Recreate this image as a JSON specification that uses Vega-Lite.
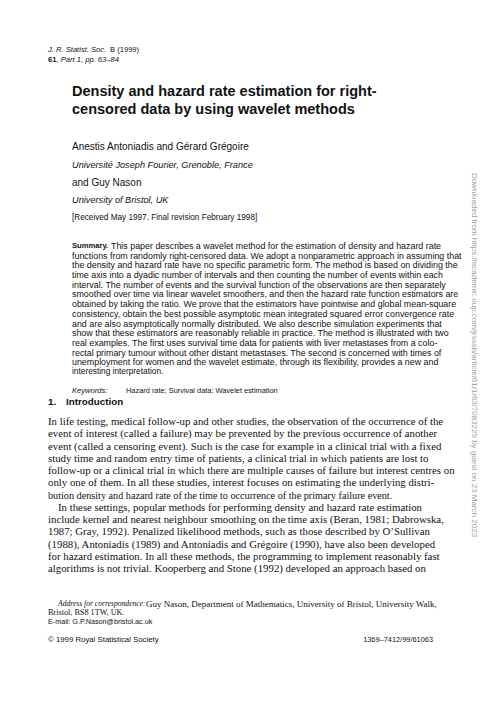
{
  "$schema": "https://vega.github.io/schema/vega-lite/v6.json",
  "width": 488,
  "height": 703,
  "autosize": {"type": "fit", "contains": "padding"},
  "padding": 0,
  "background": "white",
  "config": {"view": {"stroke": null}, "text": {"color": "#111", "align": "left", "baseline": "middle"}},
  "data": {"values": [
    {"sec": "journal", "ln": 1, "part": "lead", "t": "J. R. Statist. Soc."},
    {"sec": "journal", "ln": 1, "part": "cont", "t": "B (1999)"},
    {"sec": "journal", "ln": 2, "part": "lead", "t": "61"},
    {"sec": "journal", "ln": 2, "part": "cont", "t": ", Part 1, pp. 63–84"},
    {"sec": "title", "ln": 1, "part": "text", "t": "Density and hazard rate estimation for right-"},
    {"sec": "title", "ln": 2, "part": "text", "t": "censored data by using wavelet methods"},
    {"sec": "byline", "ln": 1, "part": "author", "t": "Anestis Antoniadis and Gérard Grégoire"},
    {"sec": "byline", "ln": 2, "part": "affil", "t": "Université Joseph Fourier, Grenoble, France"},
    {"sec": "byline", "ln": 3, "part": "author", "t": "and Guy Nason"},
    {"sec": "byline", "ln": 4, "part": "affil", "t": "University of Bristol, UK"},
    {"sec": "byline", "ln": 5, "part": "dates", "t": "[Received May 1997. Final revision February 1998]"},
    {"sec": "summary", "ln": 1, "part": "lead", "t": "Summary."},
    {"sec": "summary", "ln": 1, "part": "cont", "t": "This paper describes a wavelet method for the estimation of density and hazard rate"},
    {"sec": "summary", "ln": 2, "part": "text", "t": "functions from randomly right-censored data. We adopt a nonparametric approach in assuming that"},
    {"sec": "summary", "ln": 3, "part": "text", "t": "the density and hazard rate have no specific parametric form. The method is based on dividing the"},
    {"sec": "summary", "ln": 4, "part": "text", "t": "time axis into a dyadic number of intervals and then counting the number of events within each"},
    {"sec": "summary", "ln": 5, "part": "text", "t": "interval. The number of events and the survival function of the observations are then separately"},
    {"sec": "summary", "ln": 6, "part": "text", "t": "smoothed over time via linear wavelet smoothers, and then the hazard rate function estimators are"},
    {"sec": "summary", "ln": 7, "part": "text", "t": "obtained by taking the ratio. We prove that the estimators have pointwise and global mean-square"},
    {"sec": "summary", "ln": 8, "part": "text", "t": "consistency, obtain the best possible asymptotic mean integrated squared error convergence rate"},
    {"sec": "summary", "ln": 9, "part": "text", "t": "and are also asymptotically normally distributed. We also describe simulation experiments that"},
    {"sec": "summary", "ln": 10, "part": "text", "t": "show that these estimators are reasonably reliable in practice. The method is illustrated with two"},
    {"sec": "summary", "ln": 11, "part": "text", "t": "real examples. The first uses survival time data for patients with liver metastases from a colo-"},
    {"sec": "summary", "ln": 12, "part": "text", "t": "rectal primary tumour without other distant metastases. The second is concerned with times of"},
    {"sec": "summary", "ln": 13, "part": "text", "t": "unemployment for women and the wavelet estimate, through its flexibility, provides a new and"},
    {"sec": "summary", "ln": 14, "part": "end", "t": "interesting interpretation."},
    {"sec": "summary", "ln": 16, "part": "lead", "t": "Keywords:"},
    {"sec": "summary", "ln": 16, "part": "cont", "t": "Hazard rate; Survival data; Wavelet estimation"},
    {"sec": "heading", "ln": 1, "part": "lead", "t": "1."},
    {"sec": "heading", "ln": 1, "part": "cont", "t": "Introduction"},
    {"sec": "intro", "ln": 1, "part": "text", "ind": 0, "t": "In life testing, medical follow-up and other studies, the observation of the occurrence of the"},
    {"sec": "intro", "ln": 2, "part": "text", "ind": 0, "t": "event of interest (called a failure) may be prevented by the previous occurrence of another"},
    {"sec": "intro", "ln": 3, "part": "text", "ind": 0, "t": "event (called a censoring event). Such is the case for example in a clinical trial with a fixed"},
    {"sec": "intro", "ln": 4, "part": "text", "ind": 0, "t": "study time and random entry time of patients, a clinical trial in which patients are lost to"},
    {"sec": "intro", "ln": 5, "part": "text", "ind": 0, "t": "follow-up or a clinical trial in which there are multiple causes of failure but interest centres on"},
    {"sec": "intro", "ln": 6, "part": "text", "ind": 0, "t": "only one of them. In all these studies, interest focuses on estimating the underlying distri-"},
    {"sec": "intro", "ln": 7, "part": "end", "ind": 0, "t": "bution density and hazard rate of the time to occurrence of the primary failure event."},
    {"sec": "intro", "ln": 8, "part": "text", "ind": 1, "t": "In these settings, popular methods for performing density and hazard rate estimation"},
    {"sec": "intro", "ln": 9, "part": "text", "ind": 0, "t": "include kernel and nearest neighbour smoothing on the time axis (Beran, 1981; Dabrowska,"},
    {"sec": "intro", "ln": 10, "part": "text", "ind": 0, "t": "1987; Gray, 1992). Penalized likelihood methods, such as those described by O’Sullivan"},
    {"sec": "intro", "ln": 11, "part": "text", "ind": 0, "t": "(1988), Antoniadis (1989) and Antoniadis and Grégoire (1990), have also been developed"},
    {"sec": "intro", "ln": 12, "part": "text", "ind": 0, "t": "for hazard estimation. In all these methods, the programming to implement reasonably fast"},
    {"sec": "intro", "ln": 13, "part": "text", "ind": 0, "t": "algorithms is not trivial. Kooperberg and Stone (1992) developed an approach based on"},
    {"sec": "foot", "ln": 1, "part": "lead", "t": "Address for correspondence:"},
    {"sec": "foot", "ln": 1, "part": "cont", "t": "Guy Nason, Department of Mathematics, University of Bristol, University Walk,"},
    {"sec": "foot", "ln": 2, "part": "text", "t": "Bristol, BS8 1TW, UK."},
    {"sec": "foot", "ln": 3, "part": "email", "t": "E-mail: G.P.Nason@bristol.ac.uk"},
    {"sec": "foot", "ln": 5, "part": "left", "t": "© 1999 Royal Statistical Society"},
    {"sec": "foot", "ln": 5, "part": "right", "t": "1369–7412/99/61063"},
    {"sec": "side", "ln": 1, "part": "text", "t": "Downloaded from https://academic.oup.com/jrsssb/article/61/1/63/7083229 by guest on 23 March 2023"}
  ]},
  "layer": [
    {"transform": [{"filter": "datum.sec=='journal'&&datum.ln==1&&datum.part=='lead'"}],
     "mark": {"type": "text", "x": 48, "font": "Liberation Sans", "fontSize": 7.6, "fontStyle": "italic"},
     "encoding": {"y": {"field": "ln", "type": "quantitative", "scale": {"domain": [1, 2], "range": [50, 60], "nice": false, "zero": false}, "axis": null}, "text": {"field": "t"}}},
    {"transform": [{"filter": "datum.sec=='journal'&&datum.ln==1&&datum.part=='cont'"}],
     "mark": {"type": "text", "x": 110, "font": "Liberation Sans", "fontSize": 7.6},
     "encoding": {"y": {"field": "ln", "type": "quantitative", "scale": {"domain": [1, 2], "range": [50, 60], "nice": false, "zero": false}, "axis": null}, "text": {"field": "t"}}},
    {"transform": [{"filter": "datum.sec=='journal'&&datum.ln==2&&datum.part=='lead'"}],
     "mark": {"type": "text", "x": 48, "font": "Liberation Sans", "fontSize": 7.6, "fontWeight": "bold"},
     "encoding": {"y": {"field": "ln", "type": "quantitative", "scale": {"domain": [1, 2], "range": [50, 60], "nice": false, "zero": false}, "axis": null}, "text": {"field": "t"}}},
    {"transform": [{"filter": "datum.sec=='journal'&&datum.ln==2&&datum.part=='cont'"}],
     "mark": {"type": "text", "x": 56.5, "font": "Liberation Sans", "fontSize": 7.6, "fontStyle": "italic"},
     "encoding": {"y": {"field": "ln", "type": "quantitative", "scale": {"domain": [1, 2], "range": [50, 60], "nice": false, "zero": false}, "axis": null}, "text": {"field": "t"}}},
    {"transform": [{"filter": "datum.sec=='title'"}],
     "mark": {"type": "text", "x": 72, "font": "Liberation Sans", "fontSize": 14.5, "fontWeight": "bold"},
     "encoding": {"y": {"field": "ln", "type": "quantitative", "scale": {"domain": [1, 2], "range": [92, 110], "nice": false, "zero": false}, "axis": null}, "text": {"field": "t"}}},
    {"transform": [{"filter": "datum.sec=='byline'&&datum.part=='author'"}],
     "mark": {"type": "text", "x": 72, "font": "Liberation Sans", "fontSize": 10},
     "encoding": {"y": {"field": "ln", "type": "quantitative", "scale": {"domain": [1, 5], "range": [147, 218], "nice": false, "zero": false}, "axis": null}, "text": {"field": "t"}}},
    {"transform": [{"filter": "datum.sec=='byline'&&datum.part=='affil'"}],
     "mark": {"type": "text", "x": 72, "font": "Liberation Sans", "fontSize": 9.2, "fontStyle": "italic"},
     "encoding": {"y": {"field": "ln", "type": "quantitative", "scale": {"domain": [1, 5], "range": [147, 218], "nice": false, "zero": false}, "axis": null}, "text": {"field": "t"}}},
    {"transform": [{"filter": "datum.sec=='byline'&&datum.part=='dates'"}],
     "mark": {"type": "text", "x": 72, "font": "Liberation Sans", "fontSize": 8.2},
     "encoding": {"y": {"field": "ln", "type": "quantitative", "scale": {"domain": [1, 5], "range": [147, 218], "nice": false, "zero": false}, "axis": null}, "text": {"field": "t"}}},
    {"transform": [{"filter": "datum.sec=='summary'&&datum.part=='lead'&&datum.ln==1"}],
     "mark": {"type": "text", "x": 72, "font": "Liberation Sans", "fontSize": 7.6, "fontWeight": "bold"},
     "encoding": {"y": {"field": "ln", "type": "quantitative", "scale": {"domain": [1, 14], "range": [246, 372], "nice": false, "zero": false}, "axis": null}, "text": {"field": "t"}}},
    {"transform": [{"filter": "datum.sec=='summary'&&datum.part=='cont'&&datum.ln==1"}],
     "mark": {"type": "text", "x": 111, "font": "Liberation Sans", "fontSize": 8.9},
     "encoding": {"y": {"field": "ln", "type": "quantitative", "scale": {"domain": [1, 14], "range": [246, 372], "nice": false, "zero": false}, "axis": null}, "text": {"field": "t"}}},
    {"transform": [{"filter": "datum.sec=='summary'&&datum.part=='text'"}],
     "mark": {"type": "text", "x": 72, "font": "Liberation Sans", "fontSize": 8.9},
     "encoding": {"y": {"field": "ln", "type": "quantitative", "scale": {"domain": [1, 14], "range": [246, 372], "nice": false, "zero": false}, "axis": null}, "text": {"field": "t"}}},
    {"transform": [{"filter": "datum.sec=='summary'&&datum.part=='end'"}],
     "mark": {"type": "text", "x": 72, "font": "Liberation Sans", "fontSize": 8.3},
     "encoding": {"y": {"field": "ln", "type": "quantitative", "scale": {"domain": [1, 14], "range": [246, 372], "nice": false, "zero": false}, "axis": null}, "text": {"field": "t"}}},
    {"transform": [{"filter": "datum.sec=='summary'&&datum.part=='lead'&&datum.ln==16"}],
     "mark": {"type": "text", "x": 72, "font": "Liberation Sans", "fontSize": 7.6, "fontStyle": "italic"},
     "encoding": {"y": {"field": "ln", "type": "quantitative", "scale": {"domain": [1, 14], "range": [246, 372], "nice": false, "zero": false}, "axis": null}, "text": {"field": "t"}}},
    {"transform": [{"filter": "datum.sec=='summary'&&datum.part=='cont'&&datum.ln==16"}],
     "mark": {"type": "text", "x": 126, "font": "Liberation Sans", "fontSize": 7.4},
     "encoding": {"y": {"field": "ln", "type": "quantitative", "scale": {"domain": [1, 14], "range": [246, 372], "nice": false, "zero": false}, "axis": null}, "text": {"field": "t"}}},
    {"transform": [{"filter": "datum.sec=='heading'&&datum.part=='lead'"}],
     "mark": {"type": "text", "x": 48, "font": "Liberation Sans", "fontSize": 9.8, "fontWeight": "bold"},
     "encoding": {"y": {"field": "ln", "type": "quantitative", "scale": {"domain": [1, 2], "range": [402, 414], "nice": false, "zero": false}, "axis": null}, "text": {"field": "t"}}},
    {"transform": [{"filter": "datum.sec=='heading'&&datum.part=='cont'"}],
     "mark": {"type": "text", "x": 66, "font": "Liberation Sans", "fontSize": 9.8, "fontWeight": "bold"},
     "encoding": {"y": {"field": "ln", "type": "quantitative", "scale": {"domain": [1, 2], "range": [402, 414], "nice": false, "zero": false}, "axis": null}, "text": {"field": "t"}}},
    {"transform": [{"filter": "datum.sec=='intro'&&datum.part=='text'"}],
     "mark": {"type": "text", "font": "Liberation Serif", "fontSize": 10.8},
     "encoding": {"y": {"field": "ln", "type": "quantitative", "scale": {"domain": [1, 13], "range": [422, 569], "nice": false, "zero": false}, "axis": null},
                  "x": {"field": "ind", "type": "quantitative", "scale": {"domain": [0, 1], "range": [48, 58], "nice": false, "zero": false}, "axis": null},
                  "text": {"field": "t"}}},
    {"transform": [{"filter": "datum.sec=='intro'&&datum.part=='end'"}],
     "mark": {"type": "text", "font": "Liberation Serif", "fontSize": 10.2},
     "encoding": {"y": {"field": "ln", "type": "quantitative", "scale": {"domain": [1, 13], "range": [422, 569], "nice": false, "zero": false}, "axis": null},
                  "x": {"field": "ind", "type": "quantitative", "scale": {"domain": [0, 1], "range": [48, 58], "nice": false, "zero": false}, "axis": null},
                  "text": {"field": "t"}}},
    {"transform": [{"filter": "datum.sec=='foot'&&datum.part=='lead'"}],
     "mark": {"type": "text", "x": 58, "font": "Liberation Serif", "fontSize": 7.6, "fontStyle": "italic"},
     "encoding": {"y": {"field": "ln", "type": "quantitative", "scale": {"domain": [1, 5], "range": [604, 640], "nice": false, "zero": false}, "axis": null}, "text": {"field": "t"}}},
    {"transform": [{"filter": "datum.sec=='foot'&&datum.part=='cont'"}],
     "mark": {"type": "text", "x": 146, "font": "Liberation Serif", "fontSize": 9.0},
     "encoding": {"y": {"field": "ln", "type": "quantitative", "scale": {"domain": [1, 5], "range": [604, 640], "nice": false, "zero": false}, "axis": null}, "text": {"field": "t"}}},
    {"transform": [{"filter": "datum.sec=='foot'&&datum.part=='text'"}],
     "mark": {"type": "text", "x": 48, "font": "Liberation Serif", "fontSize": 8.2},
     "encoding": {"y": {"field": "ln", "type": "quantitative", "scale": {"domain": [1, 5], "range": [604, 640], "nice": false, "zero": false}, "axis": null}, "text": {"field": "t"}}},
    {"transform": [{"filter": "datum.sec=='foot'&&datum.part=='email'"}],
     "mark": {"type": "text", "x": 48, "font": "Liberation Sans", "fontSize": 7.2},
     "encoding": {"y": {"field": "ln", "type": "quantitative", "scale": {"domain": [1, 5], "range": [604, 640], "nice": false, "zero": false}, "axis": null}, "text": {"field": "t"}}},
    {"transform": [{"filter": "datum.sec=='foot'&&datum.part=='left'"}],
     "mark": {"type": "text", "x": 48, "font": "Liberation Sans", "fontSize": 7.8},
     "encoding": {"y": {"field": "ln", "type": "quantitative", "scale": {"domain": [1, 5], "range": [604, 640], "nice": false, "zero": false}, "axis": null}, "text": {"field": "t"}}},
    {"transform": [{"filter": "datum.sec=='foot'&&datum.part=='right'"}],
     "mark": {"type": "text", "x": 433, "align": "right", "font": "Liberation Sans", "fontSize": 7.4},
     "encoding": {"y": {"field": "ln", "type": "quantitative", "scale": {"domain": [1, 5], "range": [604, 640], "nice": false, "zero": false}, "axis": null}, "text": {"field": "t"}}},
    {"transform": [{"filter": "datum.sec=='side'"}],
     "mark": {"type": "text", "x": 474, "align": "center", "angle": 90, "font": "Liberation Sans", "fontSize": 8, "color": "#a0a0a0"},
     "encoding": {"y": {"field": "ln", "type": "quantitative", "scale": {"domain": [0, 2], "range": [0, 710], "nice": false, "zero": false}, "axis": null}, "text": {"field": "t"}}}
  ],
  "resolve": {"scale": {"y": "independent", "x": "independent"}}
}
